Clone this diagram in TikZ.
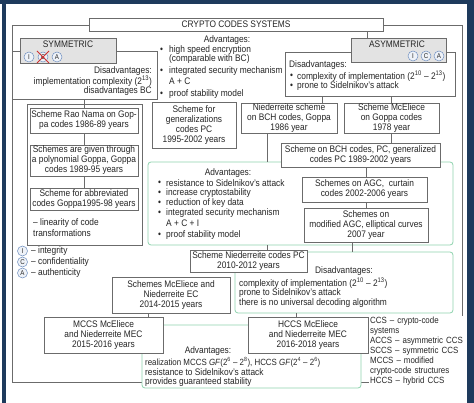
\documentclass[tikz,border=0pt]{standalone}
\usepackage{fontspec}
\setmainfont{Liberation Sans}[FakeStretch=0.88]
\definecolor{navy}{HTML}{1E3A5C}
\definecolor{lg}{HTML}{6B6B6B}
\definecolor{grn}{HTML}{8ED3AE}
\definecolor{gfill}{HTML}{E3E3E3}
\definecolor{cblue}{HTML}{6F8FC0}
\definecolor{cfill}{HTML}{EEF2F8}
\definecolor{xred}{HTML}{D03030}
\begin{document}
\begin{tikzpicture}[x=1pt,y=-1pt,
  every node/.style={font=\fontsize{9.5}{10}\selectfont, text=black!85, inner sep=0pt},
  box/.style={draw=lg, fill=white, line width=0.6pt, align=center},
  sbox/.style={box, fill=gfill},
  gbox/.style={draw=grn, fill=white, line width=0.8pt, rounded corners=3pt},
  lnk/.style={draw=lg, line width=0.6pt},
  lt/.style={anchor=west},
  ic/.style={circle, draw=cblue, fill=cfill, line width=0.5pt, minimum size=10pt, font=\fontsize{7}{7}\selectfont}]
\useasboundingbox (0,0) rectangle (474,403);
\fill[white] (0,0) rectangle (474,403);

% outer frame and background boxes
\node[box, fill=none, minimum width=450pt, minimum height=357pt] (frame) at (237,203.5) {};
\node[box, minimum width=115pt, minimum height=141pt] (container) at (84.5,174.5) {};
\node[box, minimum width=145pt, minimum height=48pt] (symdis) at (84.5,75) {};
\node[box, minimum width=170pt, minimum height=44pt] (asymdis) at (370,74) {};
\node[gbox, minimum width=305pt, minimum height=83pt] (green1) at (300.5,203.5) {};
\node[gbox, minimum width=218pt, minimum height=61pt] (green2) at (344,282.5) {};
\node[gbox, minimum width=219pt, minimum height=63pt] (green3) at (251.5,356.5) {};

% title
\node[box, minimum width=294pt, minimum height=13pt] (crypto) at (236,24.5) {CRYPTO CODES SYSTEMS};

% scheme boxes
\node[sbox, minimum width=96pt, minimum height=25pt] (sym) at (68,50.5) {};
\node[sbox, minimum width=95pt, minimum height=24pt] (asym) at (398.5,50) {};
\node[box, minimum width=108pt, minimum height=25pt] (rao) at (84,120.5) {Scheme Rao Nama on Gop-\\pa codes 1986-89 years};
\node[box, minimum width=108pt, minimum height=31pt] (given) at (84,160.5) {Schemes are given through\\a polynomial Goppa, Goppa\\codes 1989-95 years};
\node[box, minimum width=108pt, minimum height=22pt] (abbr) at (84,199) {Scheme for abbreviated\\codes Goppa1995-98 years};
\node[box, minimum width=84pt, minimum height=46pt] (gen) at (194,125) {Scheme for\\generalizations\\codes PC\\1995-2002 years};
\node[box, minimum width=96pt, minimum height=30pt] (nied) at (289,118) {Niederreite scheme\\on BCH codes, Goppa\\1986 year};
\node[box, minimum width=95pt, minimum height=30pt] (mce) at (391.5,118) {Scheme McEliece\\on Goppa codes\\1978 year};
\node[box, minimum width=159pt, minimum height=24pt] (bch) at (360.5,155) {Scheme on BCH codes, PC, generalized\\codes PC 1989-2002 years};
\node[box, minimum width=125pt, minimum height=25pt] (agc) at (364.5,189.5) {Schemes on AGC,\ \ curtain\\codes 2002-2006 years};
\node[box, minimum width=124pt, minimum height=34pt] (mod) at (366,225) {Schemes on\\modified AGC, elliptical curves\\2007 year};
\node[box, minimum width=117pt, minimum height=22pt] (niedpc) at (248.5,261) {Scheme Niederreite codes PC\\2010-2012 years};
\node[box, minimum width=118pt, minimum height=36pt] (ec) at (171,295) {Schemes McEliece and\\Niederreite EC\\2014-2015 years};
\node[box, minimum width=119pt, minimum height=36pt] (mccs) at (103.5,335) {MCCS McEliece\\and Niederreite MEC\\2015-2016 years};
\node[box, minimum width=120pt, minimum height=36pt] (hccs) at (308,335) {HCCS McEliece\\and Niederreite MEC\\2016-2018 years};

% links
\coordinate (xa) at (322,0);
\coordinate (xb) at (391,0);
\coordinate (xc) at (267,0);
\coordinate (xd) at (366,0);
\coordinate (xe) at (352,0);
\coordinate (xf) at (296,0);
\coordinate (xg) at (148,0);
\coordinate (xh) at (367,0);
\draw[lnk] (crypto.south -| xh) -- (asym.north -| xh);
\draw[lnk] (symdis.south -| rao.north) -- (container.north -| rao.north);
\draw[lnk] (container.north -| rao.north) -- (rao.north);
\draw[lnk] (rao.south) -- (given.north);
\draw[lnk] (given.south) -- (abbr.north);
\draw[lnk] (asymdis.south -| xa) -- (nied.north -| xa);
\draw[lnk] (asymdis.south -| xb) -- (mce.north -| xb);
\draw[lnk] (mce.south -| xb) -- (bch.north -| xb);
\draw[lnk] (nied.south -| xc) -- (green1.north -| xc);
\draw[lnk] (green1.south -| xc) -- (niedpc.north -| xc);
\draw[lnk] (bch.south -| xd) -- (agc.north -| xd);
\draw[lnk] (agc.south -| xd) -- (mod.north -| xd);
\draw[lnk] (mod.south -| xe) -- (green2.north -| xe);
\draw[lnk] (green2.south -| xf) -- (hccs.north -| xf);
\draw[lnk] (ec.south -| xg) -- (mccs.north -| xg);

% SYMMETRIC / ASYMMETRIC labels and circles
\node (symt) at (68,44) {SYMMETRIC};
\node[ic] (si) at (29,57) {I};
\node[ic] (sc) at (43,57) {C};
\node[ic] (sa) at (57,57) {A};
\draw[xred, line width=0.8pt] ([shift={(-6,-6)}]sc.center) -- ([shift={(6,6)}]sc.center);
\draw[xred, line width=0.8pt] ([shift={(-6,6)}]sc.center) -- ([shift={(6,-6)}]sc.center);
\node (asymt) at (397,44) {ASYMMETRIC};
\node[ic] (ai) at (413,56) {I};
\node[ic] (ac) at (426,56) {C};
\node[ic] (aa) at (439,56) {A};

% symmetric disadvantages
\node[anchor=east] (sd1) at (152,71) {Disadvantages:};
\node[anchor=east] (sd2) at (152,81) {implementation complexity (2\textsuperscript{13})};
\node[anchor=east] (sd3) at (152,91) {disadvantages BC};

% top advantages
\node (ta0) at (227,40) {Advantages:};
\node[lt] (tb1) at (160,50) {•};
\node[lt] (ta1) at (169,50) {high speed encryption};
\node[lt] (ta2) at (169,59) {(comparable with BC)};
\node[lt] (tb2) at (160,71) {•};
\node[lt] (ta3) at (169,71) {integrated security mechanism};
\node[lt] (ta4) at (169,81) {A + C};
\node[lt] (tb3) at (160,94) {•};
\node[lt] (ta5) at (169,94) {proof stability model};

% asymmetric disadvantages
\node[lt] (ad0) at (289,65) {Disadvantages:};
\node[lt] (ab1) at (290,76) {•};
\node[lt] (ad1) at (297,76) {complexity of implementation (2\textsuperscript{10} – 2\textsuperscript{13})};
\node[lt] (ab2) at (290,86) {•};
\node[lt] (ad2) at (297,86) {prone to Sidelnikov's attack};

% container text
\node[lt] (lin1) at (33,223) {– linearity of code};
\node[lt] (lin2) at (33,233) {transformations};

% circle legend
\node[ic] (li) at (22.5,251) {I};
\node[ic] (lc) at (22.5,262) {C};
\node[ic] (la) at (22.5,273) {A};
\node[lt] (lit) at (31,251) {– integrity};
\node[lt] (lct) at (31,262) {– confidentiality};
\node[lt] (lat) at (31,273) {– authenticity};

% green 1
\node (g1a) at (228,173) {Advantages:};
\node[lt] (g1b1) at (158,183) {•};
\node[lt] (g1t1) at (166,183) {resistance to Sidelnikov's attack};
\node[lt] (g1b2) at (158,193) {•};
\node[lt] (g1t2) at (166,193) {increase cryptostability};
\node[lt] (g1b3) at (158,203) {•};
\node[lt] (g1t3) at (166,203) {reduction of key data};
\node[lt] (g1b4) at (158,213) {•};
\node[lt] (g1t4) at (166,213) {integrated security mechanism};
\node[lt] (g1t5) at (166,223) {A + C + I};
\node[lt] (g1b6) at (158,235) {•};
\node[lt] (g1t6) at (166,235) {proof stability model};

% green 2
\node (g2a) at (344,271) {Disadvantages:};
\node[lt] (g2t1) at (239,283) {complexity of implementation (2\textsuperscript{10} – 2\textsuperscript{13})};
\node[lt] (g2t2) at (239,293) {prone to Sidelnikov's attack};
\node[lt] (g2t3) at (239,303) {there is no universal decoding algorithm};

% green 3
\node (g3a) at (208,351) {Advantages:};
\node[lt, font=\fontsize{9}{10}\selectfont] (g3t1) at (145,362) {realization MCCS \textit{GF}(2\textsuperscript{6} – 2\textsuperscript{8}), HCCS \textit{GF}(2\textsuperscript{4} – 2\textsuperscript{6})};
\node[lt] (g3t2) at (145,372) {resistance to Sidelnikov's attack};
\node[lt] (g3t3) at (145,382) {provides guaranteed stability};

% abbreviation legend
\node[fill=white, anchor=north west, align=left, text width=98pt, inner sep=1pt, font=\fontsize{9}{10}\selectfont] (legend) at (369,316)
 {CCS – crypto-code\\systems\\ACCS – asymmetric CCS\\SCCS – symmetric CCS\\MCCS – modified\\crypto-code structures\\HCCS – hybrid CCS};

% navy border
\fill[navy] (0,0) rectangle (474,4);
\fill[navy] (2,0) rectangle (6,403);
\fill[navy] (467,0) rectangle (474,403);
\end{tikzpicture}
\end{document}
